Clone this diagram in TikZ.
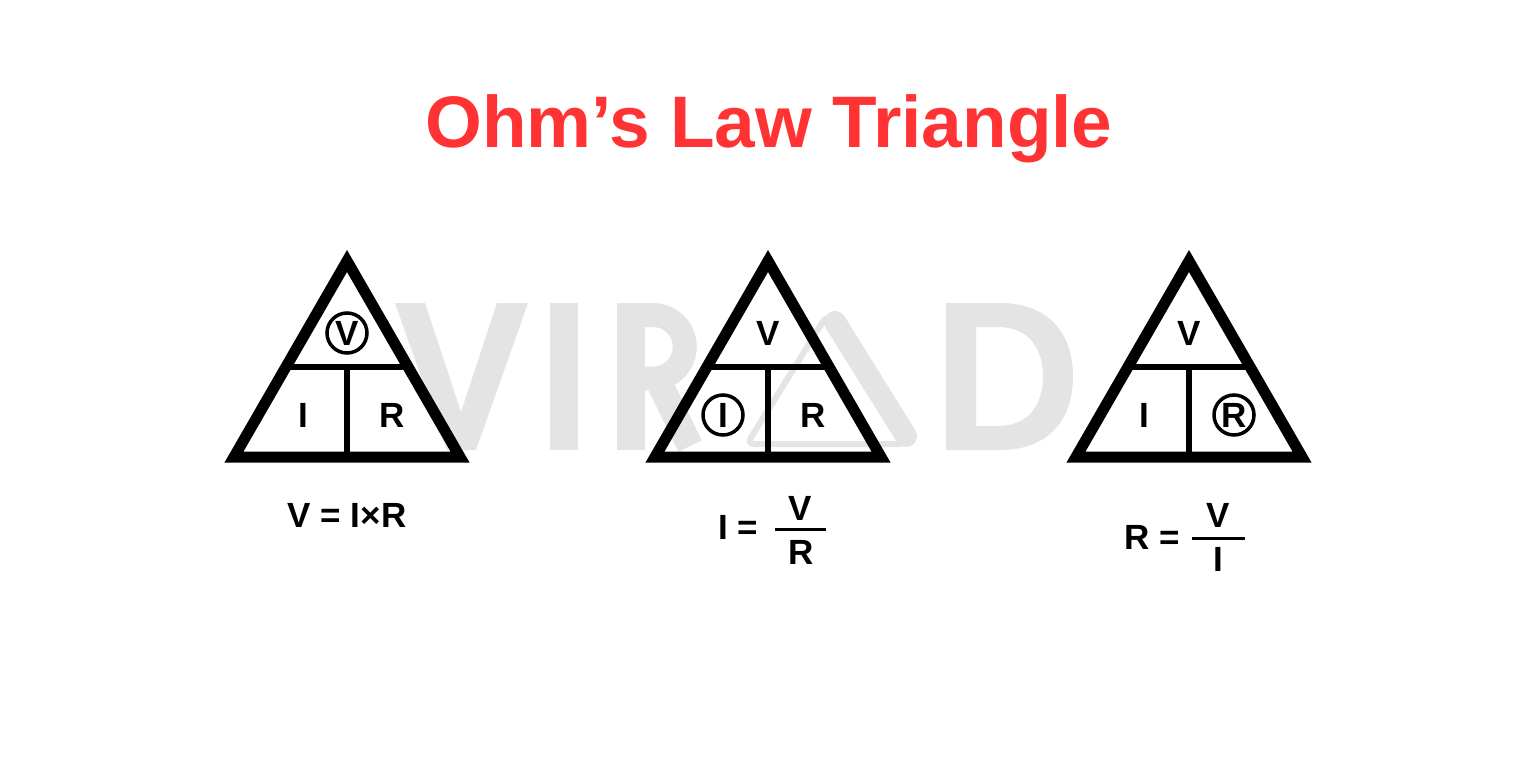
\documentclass[tikz,border=0pt]{standalone}
\usepackage{fontspec}
\setmainfont{Liberation Sans}
\definecolor{titlered}{RGB}{255,51,51}
\definecolor{wmgrey}{RGB}{228,228,228}
\tikzset{
  lbl/.style={inner sep=0pt, font=\fontsize{35}{35}\selectfont\bfseries},
  ringlbl/.style={lbl, circle, draw, line width=3.5pt, minimum size=40pt},
  tri/.style={line width=11pt, line join=miter, miter limit=10},
  divider/.style={line width=6pt},
  fracbar/.style={line width=3pt},
  titletext/.style={inner sep=0pt, anchor=base, text=titlered, font=\fontsize{73}{73}\selectfont\bfseries},
}
\begin{document}
\begin{tikzpicture}[x=1pt, y=-1pt]
\fill[white] (0,0) rectangle (1536,768);
\useasboundingbox (0,0) rectangle (1536,768);

% watermark
\begin{scope}[wmgrey]
  \fill (395,303) -- (425,303) -- (461,412) -- (497,303) -- (528,303) -- (476,450) -- (447,450) -- cycle;
  \fill (550,303) rectangle (578,450);
  \fill (617,303) rectangle (645,450);
  \draw[line width=24pt] (631,315) -- (653,315) arc[start angle=-90, end angle=90, radius=31.75] -- (631,378.5);
  \draw[line width=26pt] (658,380) -- (690,446);
  \draw[line width=6pt, rounded corners=7pt] (747,444) -- (827,315) -- (906,444) -- cycle;
  \draw[line width=22pt, line cap=round] (835,322) -- (906,436);
  \fill[even odd rule] (946,303) -- (1000,303) .. controls (1050,303) and (1073,335) .. (1073,376.5)
        .. controls (1073,418) and (1050,450) .. (1000,450) -- (946,450) -- cycle
        (976,327) -- (998,327) .. controls (1030,327) and (1043,350) .. (1043,376.5)
        .. controls (1043,403) and (1030,426) .. (998,426) -- (976,426) -- cycle;
\end{scope}

% title
\node[titletext] (title) at (769,147) {Ohm’s Law Triangle};

% triangles
\foreach \n/\xc in {1/347, 2/768, 3/1189} {
  \coordinate (apex\n) at (\xc,261);
  \coordinate (bl\n) at (\xc-113,457);
  \coordinate (br\n) at (\xc+113,457);
  \coordinate (ml\n) at (\xc-61,367);
  \coordinate (mr\n) at (\xc+61,367);
  \coordinate (mc\n) at (\xc,367);
  \coordinate (bc\n) at (\xc,457);
  \draw[tri] (apex\n) -- (bl\n) -- (br\n) -- cycle;
  \draw[divider] (ml\n) -- (mr\n);
  \draw[divider] (mc\n) -- (bc\n);
}

% triangle 1 letters
\node[ringlbl] (v1) at (347,333) {V};
\node[lbl] (i1) at (303,415) {I};
\node[lbl] (r1) at (392,415) {R};
% triangle 2 letters
\node[lbl] (v2) at (768,333) {V};
\node[ringlbl] (i2) at (723,415) {I};
\node[lbl] (r2) at (813,415) {R};
% triangle 3 letters
\node[lbl] (v3) at (1189,333) {V};
\node[lbl] (i3) at (1144,415) {I};
\node[ringlbl] (r3) at (1234,415) {R};

% formulas
\node[lbl] (f1) at (347,515) {V = I×R};

\node[lbl] (f2lhs) at (738,527) {I =};
\coordinate (bar2l) at (775,529);
\coordinate (bar2r) at (826,529);
\draw[fracbar] (bar2l) -- (bar2r);
\node[lbl] (f2num) at (800,508) {V};
\node[lbl] (f2den) at (801,552) {R};

\node[lbl] (f3lhs) at (1152,537) {R =};
\coordinate (bar3l) at (1192,538);
\coordinate (bar3r) at (1245,538);
\draw[fracbar] (bar3l) -- (bar3r);
\node[lbl] (f3num) at (1218,515) {V};
\node[lbl] (f3den) at (1218,559) {I};
\end{tikzpicture}
\end{document}
